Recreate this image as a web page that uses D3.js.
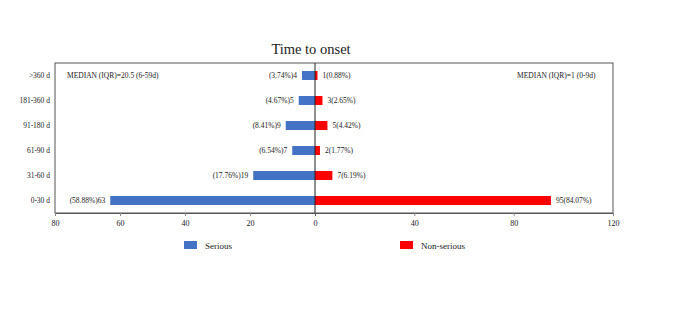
<!DOCTYPE html>
<html>
  <head>
    <script src="https://d3js.org/d3.v7.min.js"></script>
    <style>
      body { margin: 0; background: #fff; }
      text { font-family: "Liberation Serif", "Times New Roman", serif; fill: #222; }
    </style>
  </head>
  <body>
    <svg width="685" height="317"></svg>
    <script>
      // data
      var categories = [">360 d", "181-360 d", "91-180 d", "61-90 d", "31-60 d", "0-30 d"];
      var serious = [4, 5, 9, 7, 19, 63];
      var seriousPct = ["3.74%", "4.67%", "8.41%", "6.54%", "17.76%", "58.88%"];
      var nonSerious = [1, 3, 5, 2, 7, 95];
      var nonSeriousPct = ["0.88%", "2.65%", "4.42%", "1.77%", "6.19%", "84.07%"];
      var leftTicks = [80, 60, 40, 20, 0];
      var rightTicks = [40, 80, 120];

      var svg = d3.select("svg");
      // note: don't name it "top", that's window.top
      var plotTop = 63, plotBottom = 213, plotLeft = 55, mid = 315, plotRight = 613;
      var blue = "#4472c4", red = "#ff0000";

      var xLeft = d3.scaleLinear().domain([0, 80]).range([mid, plotLeft]);
      var xRight = d3.scaleLinear().domain([0, 120]).range([mid, plotRight]);
      var y = d3.scaleBand().domain(categories).range([plotTop, plotBottom]).paddingInner(0.64).paddingOuter(0.32);

      svg.append("text")
        .attr("x", 311).attr("y", 54)
        .attr("text-anchor", "middle")
        .style("font-size", "14.5px")
        .text("Time to onset");

      // frame
      svg.append("rect")
        .attr("x", plotLeft).attr("y", plotTop)
        .attr("width", plotRight - plotLeft).attr("height", plotBottom - plotTop)
        .attr("fill", "none").attr("stroke", "#555").attr("stroke-width", 1);

      // bars
      svg.append("g").selectAll("rect")
        .data(categories).enter().append("rect")
        .attr("x", function (d, i) { return xLeft(serious[i]); })
        .attr("y", function (d) { return y(d); })
        .attr("width", function (d, i) { return mid - xLeft(serious[i]); })
        .attr("height", y.bandwidth())
        .attr("fill", blue);

      svg.append("g").selectAll("rect")
        .data(categories).enter().append("rect")
        .attr("x", mid)
        .attr("y", function (d) { return y(d); })
        .attr("width", function (d, i) { return xRight(nonSerious[i]) - mid; })
        .attr("height", y.bandwidth())
        .attr("fill", red);

      // bar labels
      svg.append("g").selectAll("text")
        .data(categories).enter().append("text")
        .attr("x", function (d, i) { return xLeft(serious[i]) - 5; })
        .attr("y", function (d) { return y(d) + y.bandwidth() / 2; })
        .attr("dy", "0.35em")
        .attr("text-anchor", "end")
        .style("font-size", "7.5px")
        .text(function (d, i) { return "(" + seriousPct[i] + ")" + serious[i]; });

      svg.append("g").selectAll("text")
        .data(categories).enter().append("text")
        .attr("x", function (d, i) { return xRight(nonSerious[i]) + 5; })
        .attr("y", function (d) { return y(d) + y.bandwidth() / 2; })
        .attr("dy", "0.35em")
        .style("font-size", "7.5px")
        .text(function (d, i) { return nonSerious[i] + "(" + nonSeriousPct[i] + ")"; });

      // category labels
      svg.append("g").selectAll("text")
        .data(categories).enter().append("text")
        .attr("x", plotLeft - 5)
        .attr("y", function (d) { return y(d) + y.bandwidth() / 2; })
        .attr("dy", "0.35em")
        .attr("text-anchor", "end")
        .style("font-size", "7.5px")
        .text(function (d) { return d; });

      // center line
      svg.append("line")
        .attr("x1", mid).attr("x2", mid).attr("y1", plotTop).attr("y2", plotBottom)
        .attr("stroke", "#222").attr("stroke-width", 1);

      // axes
      var axL = svg.append("g").attr("transform", "translate(0," + plotBottom + ")")
        .call(d3.axisBottom(xLeft).tickValues(leftTicks).tickSize(3));
      var axR = svg.append("g").attr("transform", "translate(0," + plotBottom + ")")
        .call(d3.axisBottom(xRight).tickValues(rightTicks).tickSize(3));
      [axL, axR].forEach(function (ax) {
        ax.select(".domain").attr("stroke", "#555");
        ax.selectAll(".tick line").attr("stroke", "#888");
        ax.selectAll(".tick text")
          .attr("y", 7)
          .style("font-family", "Liberation Serif, serif")
          .style("font-size", "8px")
          .attr("fill", "#222");
      });

      // medians
      svg.append("text").attr("x", 67).attr("y", 78)
        .style("font-size", "7.5px").text("MEDIAN (IQR)=20.5 (6-59d)");
      svg.append("text").attr("x", 517).attr("y", 78)
        .style("font-size", "7.5px").text("MEDIAN (IQR)=1 (0-9d)");

      // legend
      var legend = [["Serious", blue, 184], ["Non-serious", red, 400]];
      var lg = svg.append("g").selectAll("g").data(legend).enter().append("g");
      lg.append("rect")
        .attr("x", function (d) { return d[2]; }).attr("y", 241)
        .attr("width", 13).attr("height", 8)
        .attr("fill", function (d) { return d[1]; });
      lg.append("text")
        .attr("x", function (d) { return d[2] + 21; }).attr("y", 248.5)
        .style("font-size", "9px")
        .text(function (d) { return d[0]; });
    </script>
  </body>
</html>
